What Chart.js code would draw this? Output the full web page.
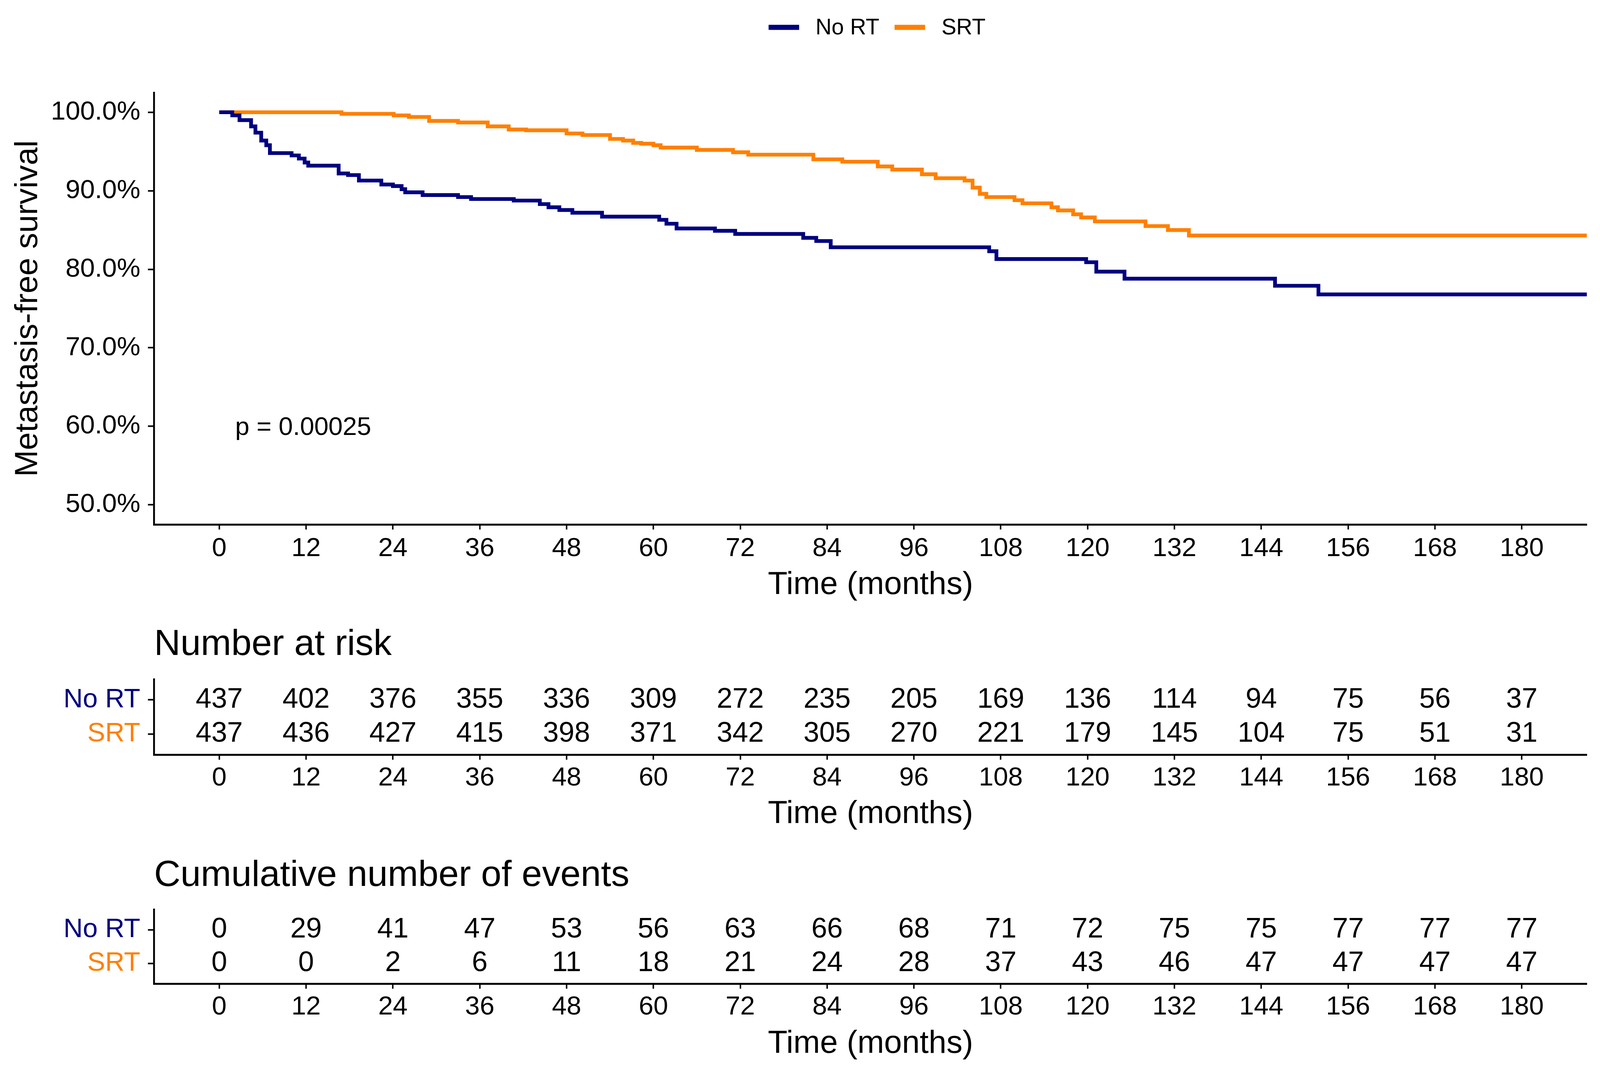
<!DOCTYPE html>
<html>
<head>
<meta charset="utf-8">
<title>Metastasis-free survival</title>
<script src="https://cdn.jsdelivr.net/npm/chart.js@4.4.1/dist/chart.umd.min.js"></script>
<style>
  html, body { margin: 0; padding: 0; background: #fff; overflow: hidden; }
  #page { position: relative; background: #fff; }
  #page canvas { position: absolute; left: 0; }
</style>
</head>
<body>
<div id="page">
  <canvas id="kmChart"></canvas>
  <canvas id="riskChart"></canvas>
  <canvas id="eventChart"></canvas>
</div>
<script>
// data

const groups = ['No RT', 'SRT'];

const timeTicks = [0, 12, 24, 36, 48, 60, 72, 84, 96, 108, 120, 132, 144, 156, 168, 180];
const survivalTicks = [50, 60, 70, 80, 90, 100];

// Kaplan-Meier steps: time of each drop (months) and survival (%) after it
const noRtTimes = [0, 1.8, 2.8, 4.4, 5.0, 5.8, 6.5, 7.0, 10.0, 11.0, 11.8, 12.3, 16.5, 17.8, 19.3, 22.4, 24.0, 25.2, 25.7, 28.1,
  33.0, 34.8, 40.7, 44.3, 45.5, 47.0, 48.8, 52.9, 60.8, 61.8, 63.2, 68.5, 71.3, 80.7, 82.5, 84.5, 106.4, 107.4, 119.8,
  121.2, 125.1, 145.9, 151.9, 189];
const noRtSurvival = [100, 99.6, 99.0, 98.2, 97.4, 96.4, 95.8, 94.8, 94.5, 94.1, 93.6, 93.2, 92.2, 92.0, 91.3, 90.8, 90.6, 90.2, 89.8, 89.45,
  89.2, 88.95, 88.75, 88.3, 87.9, 87.55, 87.2, 86.7, 86.3, 85.8, 85.2, 84.9, 84.5, 84.0, 83.6, 82.8, 82.3, 81.3, 80.9,
  79.7, 78.8, 77.9, 76.8, 76.8];

const srtTimes = [0, 16.9, 24.1, 26.2, 29.0, 33.0, 37.1, 40.0, 42.4, 48.0, 50.2, 54.0, 55.8, 57.2, 58.3, 60.0, 61.0, 66.0, 71.0, 73.1,
  82.1, 86.1, 91.0, 93.0, 97.1, 99.0, 103.0, 104.1, 105.1, 106.0, 109.9, 111.0, 115.0, 115.9, 118.0, 119.1, 121.0, 128.0,
  131.1, 134.0, 189];
const srtSurvival = [100, 99.8, 99.6, 99.4, 98.9, 98.7, 98.2, 97.8, 97.7, 97.3, 97.1, 96.6, 96.4, 96.1, 96.0, 95.8, 95.5, 95.2, 94.9, 94.6,
  94.0, 93.7, 93.1, 92.7, 92.1, 91.6, 91.3, 90.4, 89.6, 89.2, 88.8, 88.4, 87.9, 87.5, 87.0, 86.6, 86.1, 85.5,
  85.0, 84.3, 84.3];

// tables under the plot
const noRtAtRisk = [437, 402, 376, 355, 336, 309, 272, 235, 205, 169, 136, 114, 94, 75, 56, 37];
const srtAtRisk  = [437, 436, 427, 415, 398, 371, 342, 305, 270, 221, 179, 145, 104, 75, 51, 31];
const noRtEvents = [0, 29, 41, 47, 53, 56, 63, 66, 68, 71, 72, 75, 75, 77, 77, 77];
const srtEvents  = [0, 0, 2, 6, 11, 18, 21, 24, 28, 37, 43, 46, 47, 47, 47, 47];

const pValueText = 'p = 0.00025';
const pValueAt = [2.2, 59.8];


// page size: laid out on a 4402 x 2738 grid, stretched to fill the real window

const SX = window.innerWidth / 4402;
const SY = window.innerHeight / 2738;
const SF = Math.sqrt(SX * SY);
const ux = v => v * SX;   // horizontal lengths
const uy = v => v * SY;   // vertical lengths
const uf = v => v * SF;   // font sizes, line widths

const page = document.getElementById('page');
page.style.width = ux(4402) + 'px';
page.style.height = uy(2738) + 'px';

function placeCanvas(id, top, height) {
    const c = document.getElementById(id);
    c.width = Math.floor(ux(4402));
    c.height = Math.round(uy(height));
    c.style.top = uy(top) + 'px';
    return c;
}


// look

const FONT = '"Liberation Sans", Arial, Helvetica, sans-serif';
const BLUE = '#00007F';
const ORANGE = '#FF8000';
const colors = [BLUE, ORANGE];

Chart.defaults.font.family = FONT;
Chart.defaults.color = '#000';
Chart.defaults.animation = false;

const axisWidth = 424;


// shared bits

function timeAxis(tickPad, axisHeight) {
    return {
        type: 'linear',
        min: -9,
        max: 189,
        afterBuildTicks: s => { s.ticks = timeTicks.map(v => ({ value: v })); },
        afterFit: s => { s.height = uy(axisHeight); },
        ticks: { font: { size: uf(70) }, color: '#000', padding: uy(tickPad), maxRotation: 0, autoSkip: false },
        grid: {
            display: true, drawOnChartArea: false, drawTicks: true,
            tickLength: uy(13), tickWidth: ux(4), tickColor: '#000', color: '#000'
        },
        border: { display: true, color: '#000', width: uy(5) },
        title: { display: true, text: 'Time (months)', font: { size: uf(85) }, color: '#000', padding: 0 }
    };
}

function yGrid() {
    return {
        display: true, drawOnChartArea: false, drawTicks: true,
        tickLength: ux(17), tickWidth: uy(4), tickColor: '#000', color: '#000'
    };
}


// legend + p value drawn on top of the km plot

const kmExtras = {
    id: 'kmExtras',
    afterDraw(chart) {
        const ctx = chart.ctx;
        const area = chart.chartArea;
        ctx.save();

        // p value
        const px = chart.scales.x.getPixelForValue(pValueAt[0]);
        const py = chart.scales.y.getPixelForValue(pValueAt[1]);
        ctx.font = uf(68) + 'px ' + FONT;
        ctx.fillStyle = '#000';
        ctx.textAlign = 'left';
        ctx.textBaseline = 'middle';
        ctx.fillText(pValueText, px, py);

        // legend on top
        const lineW = ux(84), gap = ux(45), itemGap = ux(42);
        ctx.font = uf(59) + 'px ' + FONT;
        const items = chart.data.datasets.map(ds => ({ label: ds.label, color: ds.borderColor, w: ctx.measureText(ds.label).width }));
        let total = 0;
        items.forEach((it, i) => { total += lineW + gap + it.w + (i ? itemGap : 0); });
        let x = (area.left + area.right) / 2 + ux(18) - total / 2;
        const y = uy(70);
        items.forEach(it => {
            ctx.fillStyle = it.color;
            ctx.fillRect(x, y - uy(6.5), lineW, uy(13));
            ctx.fillStyle = '#000';
            ctx.fillText(it.label, x + lineW + gap, y + uy(2));
            x += lineW + gap + it.w + itemGap;
        });

        ctx.restore();
    }
};


// main plot

new Chart(placeCanvas('kmChart', 0, 1560), {
    type: 'line',
    data: {
        datasets: [{
            label: groups[0],
            data: noRtTimes.map((t, i) => ({ x: t, y: noRtSurvival[i] })),
            borderColor: BLUE,
            backgroundColor: BLUE,
            borderWidth: uf(10),
            stepped: true,
            pointRadius: 0,
            fill: false
        }, {
            label: groups[1],
            data: srtTimes.map((t, i) => ({ x: t, y: srtSurvival[i] })),
            borderColor: ORANGE,
            backgroundColor: ORANGE,
            borderWidth: uf(10),
            stepped: true,
            pointRadius: 0,
            fill: false
        }]
    },
    options: {
        responsive: false,
        maintainAspectRatio: false,
        layout: { padding: { top: uy(237), right: ux(36), bottom: uy(13), left: 0 } },
        scales: {
            x: timeAxis(9, 205),
            y: {
                type: 'linear',
                min: 47.5,
                max: 102.5,
                afterBuildTicks: s => { s.ticks = survivalTicks.map(v => ({ value: v })); },
                afterFit: s => { s.width = ux(axisWidth); },
                ticks: { font: { size: uf(70) }, color: '#000', padding: ux(21), callback: v => v.toFixed(1) + '%' },
                grid: yGrid(),
                border: { display: true, color: '#000', width: ux(5) },
                title: { display: true, text: 'Metastasis-free survival', font: { size: uf(85) }, color: '#000', padding: { top: ux(25), bottom: 0 } }
            }
        },
        plugins: {
            legend: { display: false },
            tooltip: { enabled: false }
        }
    },
    plugins: [kmExtras]
});


// number tables

const tableText = {
    id: 'tableText',
    afterDatasetsDraw(chart) {
        const ctx = chart.ctx;
        ctx.save();
        ctx.font = uf(75) + 'px ' + FONT;
        ctx.fillStyle = '#000';
        ctx.textAlign = 'center';
        ctx.textBaseline = 'middle';
        chart.data.datasets.forEach((ds, k) => {
            chart.getDatasetMeta(k).data.forEach((pt, i) => {
                ctx.fillText(String(ds.values[i]), pt.x, pt.y);
            });
        });
        ctx.restore();
    }
};

// No RT on the upper row, SRT below
const rowPos = [2, 1];

function tableChart(id, top, height, title, rows, titlePad, tickPad, axisHeight, bottomPad) {
    return new Chart(placeCanvas(id, top, height), {
        type: 'scatter',
        data: {
            datasets: rows.map((vals, k) => ({
                label: groups[k],
                data: timeTicks.map(t => ({ x: t, y: rowPos[k] })),
                values: vals,
                pointRadius: 0,
                showLine: false
            }))
        },
        options: {
            responsive: false,
            maintainAspectRatio: false,
            layout: { padding: { top: 0, right: ux(36), bottom: uy(bottomPad), left: 0 } },
            scales: {
                x: timeAxis(tickPad, axisHeight),
                y: {
                    type: 'linear',
                    min: 0.4,
                    max: 2.6,
                    afterBuildTicks: s => { s.ticks = rowPos.map(v => ({ value: v })); },
                    afterFit: s => { s.width = ux(axisWidth); },
                    ticks: {
                        font: { size: uf(71) },
                        padding: ux(21),
                        color: c => colors[rowPos.indexOf(c.tick.value)],
                        callback: v => groups[rowPos.indexOf(v)]
                    },
                    grid: yGrid(),
                    border: { display: true, color: '#000', width: ux(5) }
                }
            },
            plugins: {
                legend: { display: false },
                tooltip: { enabled: false },
                title: {
                    display: true,
                    text: title,
                    align: 'start',
                    fullSize: false,
                    color: '#000',
                    font: { size: uf(97), weight: 'normal' },
                    padding: { top: uy(titlePad[0]), bottom: uy(titlePad[1]) }
                }
            }
        },
        plugins: [tableText]
    });
}

tableChart('riskChart', 1560, 580, 'Number at risk', [noRtAtRisk, srtAtRisk], [34, 32], 7, 202, 7);
tableChart('eventChart', 2140, 598, 'Cumulative number of events', [noRtEvents, srtEvents], [45, 30], 7, 204, 17);
</script>
</body>
</html>
